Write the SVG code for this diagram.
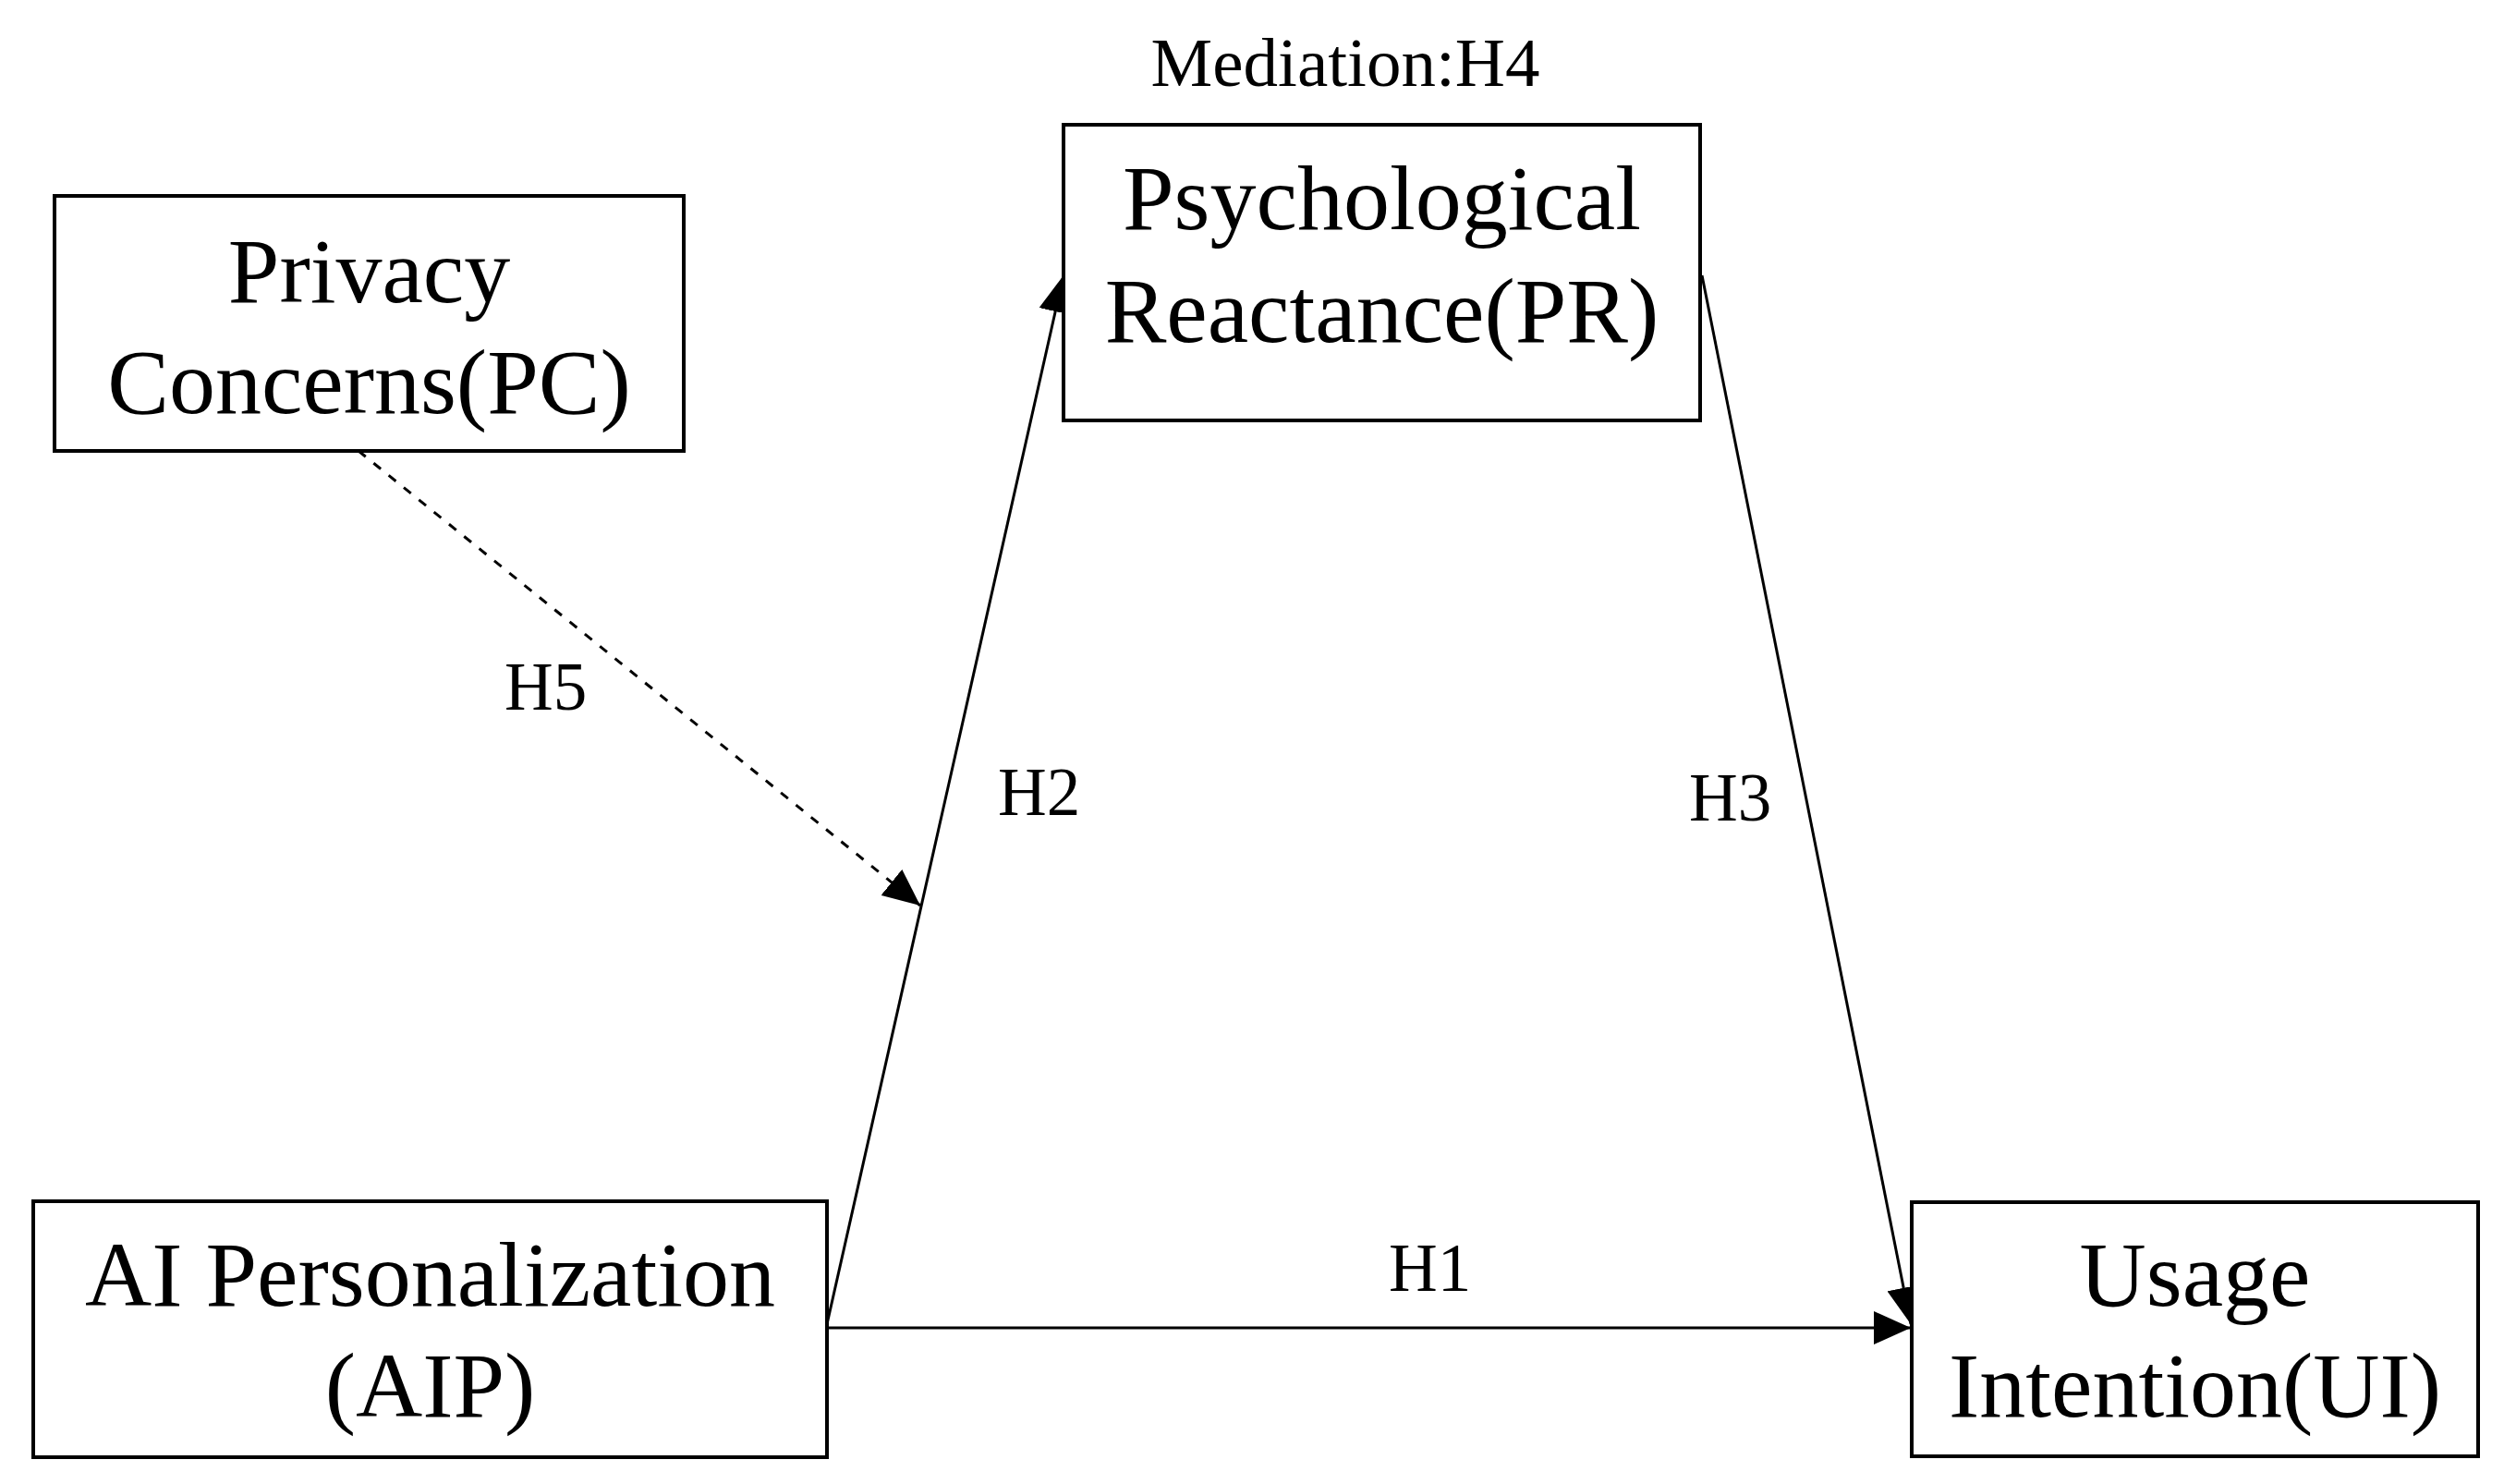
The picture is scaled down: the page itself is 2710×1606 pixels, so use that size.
<svg xmlns="http://www.w3.org/2000/svg" width="2710" height="1606" viewBox="0 0 2710 1606">
  <style>
    .box { fill: #ffffff; stroke: #000000; stroke-width: 4; }
    .node-text { font-family: "Liberation Serif", "Times New Roman", serif; font-size: 100px; fill: #000000; text-anchor: middle; }
    .label { font-family: "Liberation Serif", "Times New Roman", serif; font-size: 73px; fill: #000000; }
    .edge { fill: none; stroke: #000000; stroke-width: 3; }
    .dashed { stroke-dasharray: 10 11; }
  </style>
  <defs>
    <marker id="arrow" viewBox="0 0 40 36" refX="40" refY="18" markerWidth="40" markerHeight="36" markerUnits="userSpaceOnUse" orient="auto">
      <path d="M0,0 L40,18 L0,36 Z" fill="#000000"/>
    </marker>
  </defs>
  <rect width="2710" height="1606" fill="#ffffff"/>

  <g id="connectors">
    <line id="edge-H1" class="edge" x1="895" y1="1437" x2="2068" y2="1437" marker-end="url(#arrow)"/>
    <line id="edge-H2" class="edge" x1="895" y1="1433" x2="1151" y2="298" marker-end="url(#arrow)"/>
    <line id="edge-H3" class="edge" x1="1842" y1="298" x2="2068" y2="1433" marker-end="url(#arrow)"/>
    <line id="edge-H5" class="edge dashed" x1="388" y1="488" x2="996" y2="980" marker-end="url(#arrow)"/>
    <text class="label" x="1503" y="1397">H1</text>
    <text class="label" x="1080" y="882">H2</text>
    <text class="label" x="1828" y="888">H3</text>
    <text class="label" x="546" y="768">H5</text>
  </g>

  <g id="node-PC">
    <rect class="box" x="59" y="212" width="681" height="276"/>
    <text class="node-text" x="399.5" y="327">Privacy</text>
    <text class="node-text" x="399.5" y="447">Concerns(PC)</text>
  </g>

  <g id="node-PR">
    <text class="label" x="1456" y="93" text-anchor="middle" style="font-size:75px">Mediation:H4</text>
    <rect class="box" x="1151" y="135" width="689" height="320"/>
    <text class="node-text" x="1495.5" y="248">Psychological</text>
    <text class="node-text" x="1495.5" y="370">Reactance(PR)</text>
  </g>

  <g id="node-AIP">
    <rect class="box" x="36" y="1300" width="859" height="277"/>
    <text class="node-text" x="465.5" y="1413">AI Personalization</text>
    <text class="node-text" x="465.5" y="1533">(AIP)</text>
  </g>

  <g id="node-UI">
    <rect class="box" x="2069" y="1301" width="613" height="275"/>
    <text class="node-text" x="2375.5" y="1413">Usage</text>
    <text class="node-text" x="2375.5" y="1533">Intention(UI)</text>
  </g>
</svg>
